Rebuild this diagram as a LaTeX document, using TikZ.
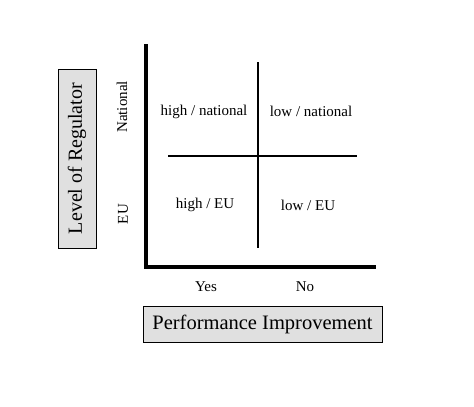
\documentclass[tikz,border=0pt]{standalone}
\usepackage{fontspec}
\setmainfont{Liberation Serif}
\begin{document}
\begin{tikzpicture}[x=1pt,y=-1pt,
  lbl/.style={font=\fontsize{15}{17}\selectfont,inner sep=0pt},
  bigbox/.style={draw=black,line width=1pt,fill=black!12,inner sep=0pt},
  axisline/.style={line width=4pt},
  divider/.style={line width=1.2pt}]
\useasboundingbox (0,0) rectangle (474,407);
% axes
\coordinate (top) at (146,46);
\coordinate (origin) at (146,267);
\coordinate (right) at (374,267);
\draw[axisline,line cap=rect] (top) -- (origin) -- (right);
% dividers
\coordinate (vt) at (258,62);
\coordinate (vb) at (258,248);
\coordinate (hl) at (168,156);
\coordinate (hr) at (357,156);
\draw[divider] (vt) -- (vb);
\draw[divider] (hl) -- (hr);
% quadrant labels
\node[lbl] (hn) at (204,112) {high / national};
\node[lbl] (ln) at (311,111) {low / national};
\node[lbl] (he) at (205,205) {high / EU};
\node[lbl] (le) at (308,205) {low / EU};
% axis value labels
\node[lbl,rotate=90] (nat) at (122,107) {National};
\node[lbl,rotate=90] (eu) at (123,214) {EU};
\node[lbl] (yes) at (206,287) {Yes};
\node[lbl] (no) at (305,287) {No};
% title boxes
\node[bigbox,minimum width=38pt,minimum height=179pt] (lvl) at (77,158.5) {};
\node[font=\fontsize{20}{24}\selectfont,rotate=90,inner sep=0pt] (lvlt) at (lvl.center) {Level of Regulator};
\node[bigbox,minimum width=239pt,minimum height=36pt] (perf) at (262.5,324) {};
\node[font=\fontsize{20.5}{24}\selectfont,inner sep=0pt] (perft) at (perf.center) {Performance Improvement};
\end{tikzpicture}
\end{document}
